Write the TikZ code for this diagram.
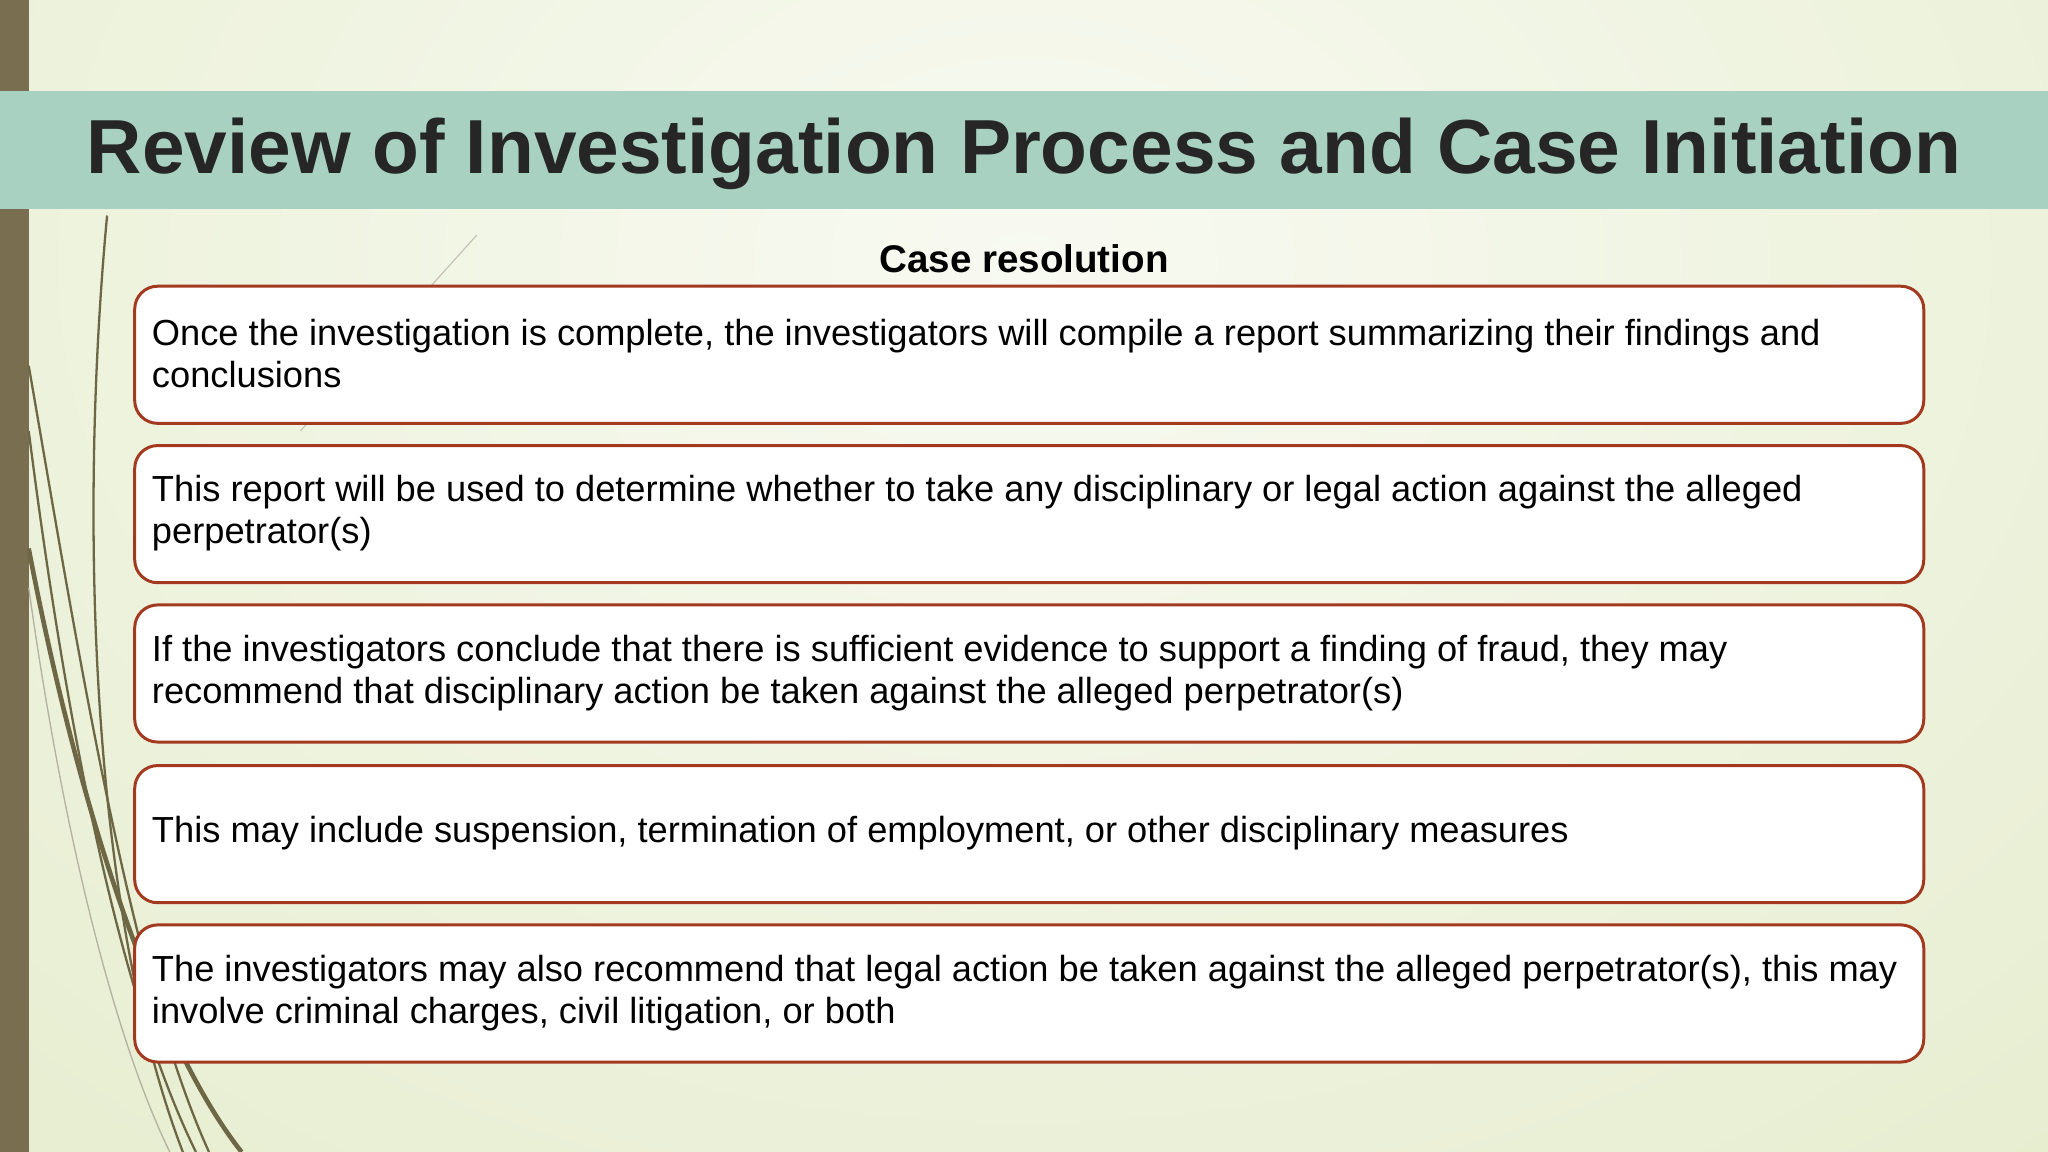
\documentclass[tikz,border=0pt]{standalone}
\usepackage{fontspec}
\setmainfont{Liberation Sans}
\begin{document}
\begin{tikzpicture}[x=0.02cm,y=-0.02cm,
  box/.style={draw=boxred,line width=1.3pt,fill=white,rounded corners=0.35cm,minimum width=27.4cm,minimum height=2.1cm,anchor=north west},
  txt/.style={anchor=west,align=left,font=\fontsize{15.8}{18.3}\selectfont,inner sep=0pt},
  deco/.style={draw=olive1,line width=1pt}]
\definecolor{boxred}{HTML}{A33A20}
\definecolor{olive1}{HTML}{6E6745}
\definecolor{bg}{HTML}{E3EBC8}
\definecolor{band}{HTML}{A9D1C2}
\definecolor{bar}{HTML}{7A6E50}
\useasboundingbox (0,0) rectangle (1568,882);
\shade[inner color=white,outer color=bg] (-400,-700) rectangle (1968,1100);
\fill[bg!60!white,opacity=0.4] (0,0) rectangle (1568,882);
\fill[bar] (0,0) rectangle (22,882);
% decorative curves
\draw[deco] (82,165) .. controls (60,400) and (70,700) .. (140,882);
\draw[deco] (22,280) .. controls (60,500) and (100,750) .. (160,882);
\draw[deco] (22,330) .. controls (50,550) and (90,760) .. (150,882);
\draw[deco,line width=2pt] (22,420) .. controls (60,620) and (120,800) .. (185,882);
\draw[deco,line width=0.6pt,olive1!50] (22,450) .. controls (50,650) and (90,800) .. (130,882);
\draw[olive1!40,line width=0.5pt] (230,330) -- (365,180);
\fill[band] (0,70) rectangle (1568,160);
\node[font=\fontsize{33.4}{34}\selectfont\bfseries,text=black!85] (title) at (784,118) {Review of Investigation Process and Case Initiation};
\node[font=\fontsize{16.8}{17}\selectfont\bfseries] (head) at (784,198) {Case resolution};
\node[box] (b1) at (102,218) {};
\node[box] (b2) at (102,340) {};
\node[box] (b3) at (102,462) {};
\node[box] (b4) at (102,585) {};
\node[box] (b5) at (102,707) {};
\node[txt] (t1) at (116,271) {Once the investigation is complete, the investigators will compile a report summarizing their findings and\\conclusions};
\node[txt] (t2) at (116,393) {This report will be used to determine whether to take any disciplinary or legal action against the alleged\\perpetrator(s)};
\node[txt] (t3) at (116,515) {If the investigators conclude that there is sufficient evidence to support a finding of fraud, they may\\recommend that disciplinary action be taken against the alleged perpetrator(s)};
\node[txt] (t4) at (116,638) {This may include suspension, termination of employment, or other disciplinary measures};
\node[txt] (t5) at (116,760) {The investigators may also recommend that legal action be taken against the alleged perpetrator(s), this may\\involve criminal charges, civil litigation, or both};
\end{tikzpicture}
\end{document}
